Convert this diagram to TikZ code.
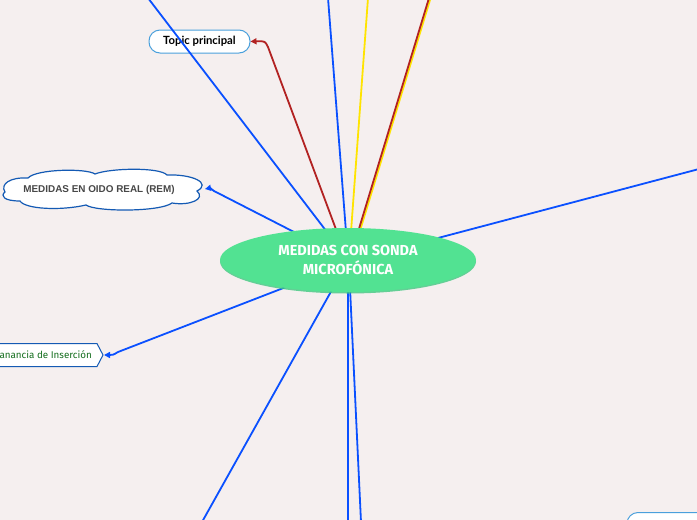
\documentclass[tikz,border=0pt]{standalone}
\usepackage{fontspec}
\setmainfont{Liberation Sans}
\newfontfamily\latofont{Lato}
\newfontfamily\firafont{Fira Sans}
\usetikzlibrary{shapes.geometric,arrows.meta,shadows}
\definecolor{bgc}{RGB}{245,239,239}
\definecolor{bluel}{RGB}{10,80,255}
\definecolor{redl}{RGB}{178,34,34}
\definecolor{yell}{RGB}{255,228,0}
\definecolor{greenc}{RGB}{82,226,146}
\definecolor{greend}{RGB}{64,200,128}
\definecolor{boxb}{RGB}{74,160,220}
\definecolor{cloudb}{RGB}{20,90,180}
\definecolor{gtext}{RGB}{20,110,30}
\tikzset{
  conn/.style={line width=1.8pt, line cap=round},
  bconn/.style={conn, draw=bluel},
  rconn/.style={conn, draw=redl},
  yconn/.style={conn, draw=yell},
  topicbox/.style={draw=boxb, line width=1pt, fill=white, rounded corners=11pt, minimum width=101pt, minimum height=23pt, inner sep=0pt, font=\latofont\bfseries\fontsize{11.3}{13}\selectfont},
}
\begin{document}
\begin{tikzpicture}[x=1pt,y=-1pt]
\fill[bgc] (0,0) rectangle (697,520);
\useasboundingbox (0,0) rectangle (697,520);

% free ends
\coordinate (e1) at (148,-2);
\coordinate (e2) at (328,-2);
\coordinate (e3) at (368,-2);
\coordinate (e4) at (429,-2);
\coordinate (e5) at (699,169);
\coordinate (e6) at (202,522);
\coordinate (e7) at (348,522);
\coordinate (e8) at (361,522);

% attachment points on the central ellipse
\coordinate (c1) at (327,232);
\coordinate (c2) at (337,232);
\coordinate (c3) at (346,232);
\coordinate (c4) at (351,232);
\coordinate (c5) at (358,232);
\coordinate (c6) at (438,238);
\coordinate (c7) at (296,233);
\coordinate (c8) at (286,287);
\coordinate (c9) at (333,288);
\coordinate (c10) at (348,288);
\coordinate (c11) at (350,288);

% nodes
\node[topicbox] (topic) at (199.5,41.5) {Topic principal};

\filldraw[fill=white, draw=cloudb, line width=1.2pt]
  (5,192) .. controls (0,184) and (10,177) .. (28,178)
  .. controls (36,169) and (86,168) .. (95,174)
  .. controls (110,168) and (160,167) .. (167,175)
  .. controls (192,174) and (212,183) .. (197,191)
  .. controls (206,199) and (190,206) .. (172,203)
  .. controls (160,212) and (96,212) .. (86,205)
  .. controls (60,211) and (25,209) .. (20,201)
  .. controls (4,201) and (0,196) .. (5,192) -- cycle;
\node[inner sep=0pt, font=\bfseries\fontsize{9.9}{11}\selectfont, text=black!72] (rem) at (99,190) {MEDIDAS EN OIDO REAL (REM)};
\coordinate (remp) at (205,189);

\fill[white, draw=cloudb, line width=1pt] (-10,343.5) -- (97,343.5) -- (103,355) -- (97,366.5) -- (-10,366.5) -- cycle;
\node[anchor=east, inner sep=0pt, text=gtext, font=\firafont\fontsize{9.8}{11}\selectfont] (gan) at (92,355) {Ganancia de Inserción};
\coordinate (ganp) at (104,355);

\draw[draw=boxb, line width=1pt, fill=white, rounded corners=11pt] (627,530) -- (627,512.5) -- (710,512.5) -- (710,530);

% connectors
\draw[bconn] (e1) -- (c1);
\draw[bconn] (e2) -- (c3);
\draw[yconn] (e3) -- (c4);
\draw[yconn] ([xshift=1.6pt]e4) -- ([xshift=1.6pt]c5);
\draw[rconn] (e4) -- (c5);
\draw[bconn] (e5) -- (c6);
\draw[bconn] (e6) -- (c9);
\draw[bconn] (e7) -- (c10);
\draw[bconn] (e8) -- (c11);

\draw[rconn, -{Triangle[length=6pt,width=6pt]}] (c2) -- (268,47) .. controls (265,41) .. (topic.east);
\draw[bconn, -{Triangle[length=6pt,width=6pt]}] (c7) -- (214,191) .. controls (210,188) .. (remp);
\draw[bconn, -{Triangle[length=6pt,width=6pt]}] (c8) -- (118,352) .. controls (113,355) .. (ganp);

% central ellipse
\node[ellipse, fill=greenc, minimum width=256pt, minimum height=64pt, inner sep=0pt,
      drop shadow={shadow xshift=0pt, shadow yshift=-1.5pt, fill=greend, opacity=0.8},
      text=white, align=center, font=\firafont\bfseries\fontsize{14.5}{19}\selectfont] (center) at (348,260)
      {MEDIDAS CON SONDA\\MICROFÓNICA};
\end{tikzpicture}
\end{document}
